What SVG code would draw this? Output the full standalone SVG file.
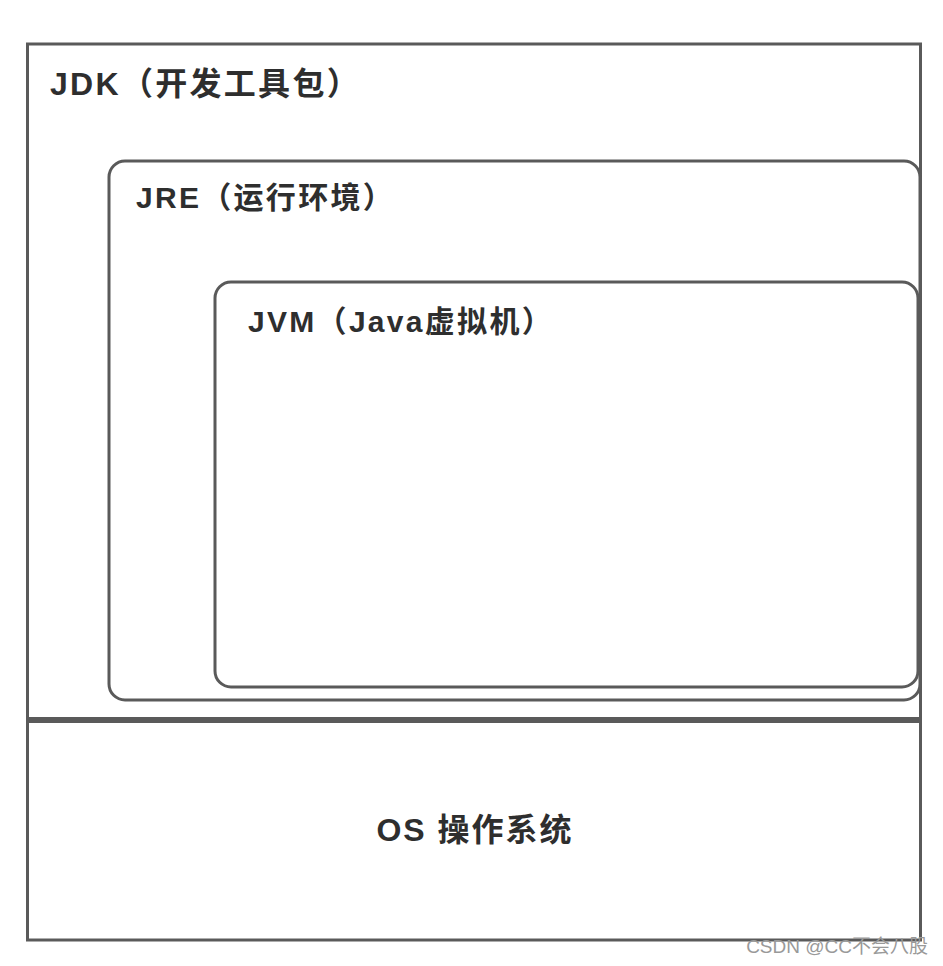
<svg xmlns="http://www.w3.org/2000/svg" width="943" height="966" viewBox="0 0 943 966">
<style>
.box{fill:none;stroke:#5a5a5a;stroke-width:3}
.lbl{font-family:"Liberation Sans","Noto Sans CJK SC",sans-serif;font-weight:bold;fill:#2e2e2e;letter-spacing:2.3px}
.wm{font-family:"Liberation Sans","Noto Sans CJK SC",sans-serif;fill:#999}
</style>
<rect width="943" height="966" fill="#ffffff"/>
<g id="jdk">
<rect class="box" x="27.5" y="44" width="893" height="896"/>
<text class="lbl" x="50" y="95" font-size="32">JDK（开发工具包）</text>
</g>
<g id="jre">
<rect class="box" x="109" y="161" width="811" height="539" rx="16"/>
<text class="lbl" x="136" y="208" font-size="30">JRE（运行环境）</text>
</g>
<g id="jvm">
<rect class="box" x="215" y="282" width="703" height="405" rx="16"/>
<text class="lbl" x="248" y="332" font-size="30">JVM（Java虚拟机）</text>
</g>
<g id="os">
<line x1="27" y1="720" x2="921" y2="720" stroke="#5a5a5a" stroke-width="6"/>
<text class="lbl" x="475" y="841" font-size="32" text-anchor="middle" style="letter-spacing:2px">OS 操作系统</text>
</g>
<text class="wm" x="928" y="953" font-size="19" text-anchor="end">CSDN @CC不会八股</text>
</svg>
